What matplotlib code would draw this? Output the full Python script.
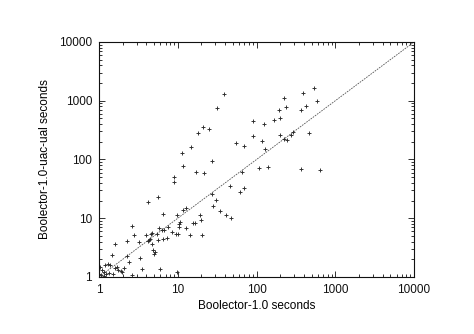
import matplotlib
matplotlib.use("Agg")
import matplotlib.pyplot as plt
from matplotlib.ticker import LogLocator, FixedLocator, NullFormatter

plt.rcParams['font.family'] = ['Liberation Sans', 'DejaVu Sans']

# Boolector-1.0 seconds (x) vs Boolector-1.0-uac-ual seconds (y)
base_sec = [
    38.7, 31.8, 21.1, 18.3, 25.2, 14.6, 11.4, 11.8, 27.5, 16.9, 21.8, 8.87, 9.05,
    537, 393, 223, 580, 425, 371, 235, 193, 199, 168, 123, 90.3, 90.3, 116,
    201, 221, 246, 277, 294, 460, 129, 55, 70.1, 107, 141, 367, 640, 64.8,
    46.1, 61.7, 68.7, 27.5, 30.3, 28.3, 34.4, 40.6, 47.9,
    4.23, 5.61, 6.56, 12.7, 11.5, 9.88, 10.7, 10.4, 10.3, 12.7, 15.8, 16.6,
    19.2, 19.9, 20.1, 14.5, 10.1, 9.41, 8.37, 7.44, 6.76, 6.25, 5.84, 5.4,
    6.56, 7.38, 5.67, 4.53, 4.75, 4.31, 4.4, 4.15, 3.91, 4.67, 4.9, 5.14, 5.05,
    3.22, 2.81, 2.6, 2.24, 2.29, 1.58, 1.48, 3.32, 3.55, 2.4, 2.08, 2.6, 5.95,
    9.88, 1.52, 1.76, 1.7, 1.29, 1.2, 1.38, 1.08, 1.14, 1.23, 1.03, 1.05, 1.35,
    1.94, 1.14, 1.0, 1.6, 1.9,
]
uac_sec = [
    1320, 753, 357, 286, 335, 163, 131, 76.5, 94.3, 61.3, 59.7, 50.4, 41.4,
    1648, 1373, 1128, 990, 804, 705, 772, 687, 508, 464, 407, 447, 251, 209,
    261, 226, 218, 261, 294, 286, 149, 194, 172, 71.6, 74.5, 68, 65.4, 61.3,
    35.4, 28, 32.7, 26.2, 20.2, 16.2, 13.3, 11.2, 9.97,
    18.9, 23, 11.7, 14.9, 13.6, 11.2, 8.63, 7.88, 7.1, 6.82, 8.3, 8.3,
    11.2, 9.22, 5.12, 5.12, 5.47, 5.47, 5.84, 7.1, 6.23, 6.23, 6.82, 5.47,
    4.49, 4.7, 4.21, 5.47, 5.69, 4.3, 4.49, 4.1, 5.12, 3.69, 2.84, 2.67, 2.5,
    3.94, 5.12, 7.28, 4.1, 2.25, 3.6, 2.34, 2.13, 1.39, 1.8, 1.42, 1.07, 1.39,
    1.22, 1.14, 1.33, 1.48, 1.69, 1.62, 1.58, 1.3, 1.22, 1.11, 1.48, 1.07, 1.17,
    1.22, 1.03, 1.14, 1.45, 1.25,
]

diag = [1, 10000]
x_ticks = [1, 10, 100, 1000, 10000]
tick_labels = ['1', '10', '100', '1000', '10000']

fig = plt.figure(figsize=(4.74, 3.34), dpi=100)
ax = fig.add_axes([0.2089, 0.1707, 0.6646, 0.7036])

ax.plot(diag, diag, linestyle=(0, (2, 1.2)), color='#555555', linewidth=0.6)
ax.plot(base_sec, uac_sec, linestyle='none', marker='+', markersize=3.4,
        markeredgewidth=0.65, color='#2a2a2a')

ax.set_xscale('log')
ax.set_yscale('log')
ax.set_xlim(1, 10000)
ax.set_ylim(1, 10000)

for axis in (ax.xaxis, ax.yaxis):
    axis.set_major_locator(FixedLocator(x_ticks))
    axis.set_minor_locator(LogLocator(base=10, subs=range(2, 10)))
    axis.set_minor_formatter(NullFormatter())
ax.set_xticklabels(tick_labels)
ax.set_yticklabels(tick_labels)

ax.tick_params(which='both', direction='in', top=True, right=True,
               labelsize=8.5, colors='#111111', width=0.6)
ax.tick_params(which='major', length=4, pad=5)
ax.tick_params(which='minor', length=2)

for sp in ax.spines.values():
    sp.set_linewidth(0.8)
    sp.set_color('#111111')

ax.set_xlabel('Boolector-1.0 seconds', fontsize=8.5, labelpad=3)
ax.set_ylabel('Boolector-1.0-uac-ual seconds', fontsize=8.5, labelpad=6)

fig.savefig('out.png', dpi=100)
